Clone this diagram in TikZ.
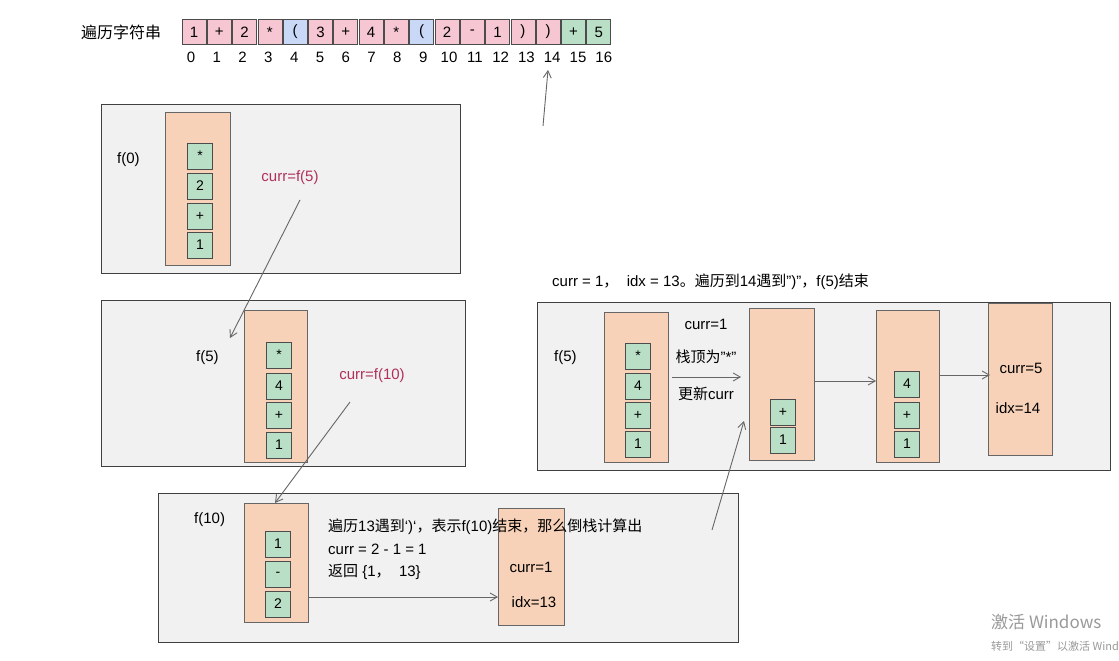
\documentclass[tikz,border=0pt]{standalone}
\usepackage{fontspec}
\setmainfont[Ligatures=NoCommon]{Liberation Sans}
\newfontfamily\cjk{Noto Sans CJK SC}
\usetikzlibrary{arrows.meta}
\definecolor{pinkc}{HTML}{F6C6D2}
\definecolor{bluec}{HTML}{C9D8F6}
\definecolor{greenc}{HTML}{B9E0C6}
\definecolor{orc}{HTML}{F8D2B8}
\definecolor{grayb}{HTML}{F1F1F1}
\definecolor{crim}{HTML}{B0305A}
\tikzset{
  frame/.style={draw=black!75,fill=grayb,line width=0.8pt},
  stackbox/.style={draw=black!60,fill=orc,line width=0.8pt},
  cell/.style={draw=black!70,fill=greenc,line width=0.7pt,minimum width=25pt,minimum height=26pt,inner sep=0pt,font=\fontsize{14}{15}\selectfont},
  scell/.style={draw=black!70,line width=0.7pt,minimum width=24pt,minimum height=25pt,inner sep=0pt,font=\fontsize{15}{16}\selectfont},
  txt/.style={font=\fontsize{15}{17}\selectfont,inner sep=0pt},
  arr/.style={draw=black!60,line width=0.9pt,-{Straight Barb[length=7pt,width=8pt]}},
}
\begin{document}
\begin{tikzpicture}[x=1pt,y=-1pt]
\useasboundingbox[fill=white] (0,0) rectangle (1119,661);
% top strip
\node[txt,anchor=west,font=\fontsize{16}{18}\selectfont\cjk] (title) at (81,32) {遍历字符串};
\foreach \i/\s/\c in {0/1/pinkc,1/+/pinkc,2/2/pinkc,3/*/pinkc,4/(/bluec,5/3/pinkc,6/+/pinkc,7/4/pinkc,8/*/pinkc,9/(/bluec,10/2/pinkc,11/-/pinkc,12/1/pinkc,13/)/pinkc,14/)/pinkc,15/+/greenc,16/5/greenc}{
  \node[scell,fill=\c] (s\i) at ({194+\i*25.3},32) {\s};
  \node[txt] (n\i) at ({191+\i*25.8},57) {\i};
}
\coordinate (p0) at (543,126);
\draw[arr] (p0) -- (548,70);

% box 1
\node[frame,minimum width=359pt,minimum height=169pt,anchor=north west] (b1) at (101,104) {};
\node[txt,anchor=west] (f0) at (117,160) {f(0)};
\node[stackbox,minimum width=65pt,minimum height=153pt,anchor=north west] (o1) at (165,112) {};
\node[cell] (a1) at (200,156) {*};
\node[cell] (a2) at (200,186) {2};
\node[cell] (a3) at (200,216) {+};
\node[cell] (a4) at (200,245) {1};
\node[txt,text=crim] (c5) at (290,178) {curr=f(5)};

% box 2
\node[frame,minimum width=364pt,minimum height=166pt,anchor=north west] (b2) at (101,300) {};
\node[txt,anchor=west] (f5) at (196,358) {f(5)};
\node[stackbox,minimum width=63pt,minimum height=152pt,anchor=north west] (o2) at (244,310) {};
\node[cell] (b21) at (279,355) {*};
\node[cell] (b22) at (279,386) {4};
\node[cell] (b23) at (279,415) {+};
\node[cell] (b24) at (279,445) {1};
\node[txt,text=crim] (c10) at (372,376) {curr=f(10)};

% box 3
\node[frame,minimum width=580pt,minimum height=149pt,anchor=north west] (b3) at (158,493) {};
\node[txt,anchor=west] (f10) at (194,520) {f(10)};
\node[stackbox,minimum width=64pt,minimum height=119pt,anchor=north west] (o3) at (244,503) {};
\node[cell] (c31) at (278,544) {1};
\node[cell] (c32) at (278,574) {-};
\node[cell] (c33) at (278,604) {2};
\node[stackbox,minimum width=66pt,minimum height=117pt,anchor=north west] (o3b) at (498,508) {};
\node[txt,anchor=west] (t3) at (328,527) {{\cjk 遍历}13{\cjk 遇到}\symbol{96})\symbol{96}{\cjk ，表示}f(10){\cjk 结束，那么倒栈计算出}};
\node[txt,anchor=west] (t3b) at (328,549) {curr = 2 - 1 = 1};
\node[txt,anchor=west] (t3c) at (328,572) {{\cjk 返回} \{1{\cjk ，}\ \ 13\}};
\node[txt] (cur1) at (531,567) {curr=1};
\node[txt] (idx13) at (534,602) {idx=13};
\draw[arr] (308,597) -- (o3b.west|-0,597);

% box 4
\node[txt,anchor=west] (t4) at (552,282) {curr = 1{\cjk ，}\ \ idx = 13{\cjk 。遍历到}14{\cjk 遇到}\symbol{34})\symbol{34}{\cjk ，}f(5){\cjk 结束}};
\node[frame,minimum width=573pt,minimum height=168pt,anchor=north west] (b4) at (537,302) {};
\node[txt,anchor=west] (f5b) at (554,358) {f(5)};
\node[stackbox,minimum width=64pt,minimum height=150pt,anchor=north west] (o41) at (604,312) {};
\node[cell] (d1) at (638,356) {*};
\node[cell] (d2) at (638,386) {4};
\node[cell] (d3) at (638,415) {+};
\node[cell] (d4) at (638,444) {1};
\node[txt] (k1) at (706,324) {curr=1};
\node[txt] (k2) at (706,357) {{\cjk 栈顶为}\symbol{34}*\symbol{34}};
\node[txt] (k3) at (706,394) {{\cjk 更新}curr};
\node[stackbox,minimum width=65pt,minimum height=152pt,anchor=north west] (o42) at (749,308) {};
\node[cell] (e1) at (783,412) {+};
\node[cell] (e2) at (783,440) {1};
\node[stackbox,minimum width=63pt,minimum height=152pt,anchor=north west] (o43) at (876,310) {};
\node[cell] (g1) at (907,384) {4};
\node[cell] (g2) at (907,415) {+};
\node[cell] (g3) at (907,444) {1};
\node[stackbox,minimum width=64pt,minimum height=152pt,anchor=north west] (o44) at (988,303) {};
\node[txt] (k4) at (1021,368) {curr=5};
\node[txt] (k5) at (1018,408) {idx=14};
\draw[arr] (672,377) -- (741,377);
\draw[arr] (o42.east|-0,381) -- (o43.west|-0,381);
\draw[arr] (o43.east|-0,375) -- (990,375);

% connectors between boxes
\draw[arr] (300,200) -- (230,338);
\draw[arr] (350,402) -- (275,503);
\coordinate (q0) at (712,530);
\draw[arr] (q0) -- (744,421);

% watermark
\begin{scope}
\clip (0,0) rectangle (1119,661);
\node[txt,anchor=west,text=black!40,font=\fontsize{17}{18}\selectfont\cjk] (w1) at (991,622) {激活 Windows};
\node[txt,anchor=west,text=black!40,font=\fontsize{11}{12}\selectfont\cjk] (w2) at (991,646) {转到“设置”以激活 Windows};
\end{scope}
\end{tikzpicture}
\end{document}
